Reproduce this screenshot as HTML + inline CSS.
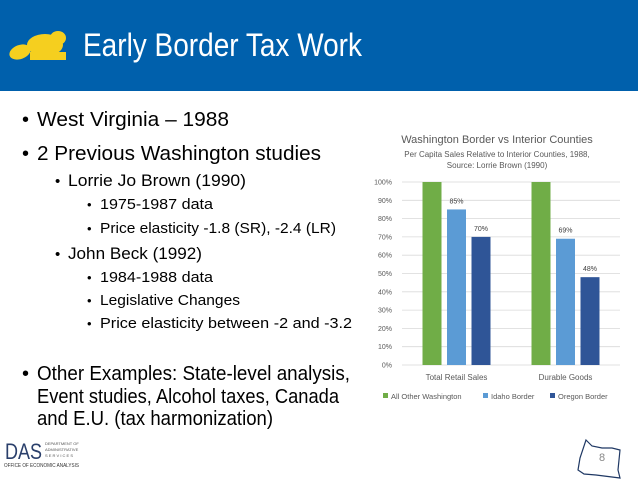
<!DOCTYPE html>
<html><head><meta charset="utf-8"><style>
html,body{margin:0;padding:0;background:#fff;width:638px;height:479px;overflow:hidden}
svg{display:block;font-family:"Liberation Sans",sans-serif}
</style></head><body>
<svg width="638" height="479" viewBox="0 0 638 479">
<rect x="0" y="0" width="638" height="91" fill="#0060ac"/>
<g fill="#f5cf1f">
<ellipse cx="45" cy="45" rx="18" ry="11"/>
<ellipse cx="58" cy="38" rx="8" ry="7"/>
<ellipse cx="20" cy="52" rx="11" ry="7" transform="rotate(-20 20 52)"/>
<rect x="30" y="52" width="36" height="8"/>
</g>
<text x="83" y="56" font-size="32" fill="#fff" textLength="279" lengthAdjust="spacingAndGlyphs">Early Border Tax Work</text>
<g fill="#000">
<text x="22" y="126" font-size="20">•</text><text x="37" y="126" font-size="20" textLength="192" lengthAdjust="spacingAndGlyphs">West Virginia – 1988</text>
<text x="22" y="160" font-size="20">•</text><text x="37" y="160" font-size="20" textLength="284" lengthAdjust="spacingAndGlyphs">2 Previous Washington studies</text>
<text x="55" y="186" font-size="15">•</text><text x="68" y="186" font-size="17" textLength="178" lengthAdjust="spacingAndGlyphs">Lorrie Jo Brown (1990)</text>
<text x="87" y="209" font-size="13">•</text><text x="100" y="209" font-size="15" textLength="113" lengthAdjust="spacingAndGlyphs">1975-1987 data</text>
<text x="87" y="233" font-size="13">•</text><text x="100" y="233" font-size="15" textLength="236" lengthAdjust="spacingAndGlyphs">Price elasticity -1.8 (SR), -2.4 (LR)</text>
<text x="55" y="259" font-size="15">•</text><text x="68" y="259" font-size="17" textLength="134" lengthAdjust="spacingAndGlyphs">John Beck (1992)</text>
<text x="87" y="282" font-size="13">•</text><text x="100" y="282" font-size="15" textLength="113" lengthAdjust="spacingAndGlyphs">1984-1988 data</text>
<text x="87" y="305" font-size="13">•</text><text x="100" y="305" font-size="15" textLength="140" lengthAdjust="spacingAndGlyphs">Legislative Changes</text>
<text x="87" y="328" font-size="13">•</text><text x="100" y="328" font-size="15" textLength="252" lengthAdjust="spacingAndGlyphs">Price elasticity between -2 and -3.2</text>
<text x="22" y="380" font-size="20">•</text><text x="37" y="380" font-size="20" textLength="313" lengthAdjust="spacingAndGlyphs">Other Examples: State-level analysis,</text>
<text x="37" y="403" font-size="20" textLength="302" lengthAdjust="spacingAndGlyphs">Event studies, Alcohol taxes, Canada</text>
<text x="37" y="425" font-size="20" textLength="236" lengthAdjust="spacingAndGlyphs">and E.U. (tax harmonization)</text>
</g>
<g>
<text x="5" y="459" font-size="22" fill="#2a3f6b" textLength="37" lengthAdjust="spacingAndGlyphs">DAS</text>
<text x="45" y="445" font-size="4" fill="#555">DEPARTMENT OF</text>
<text x="45" y="451" font-size="4" fill="#555">ADMINISTRATIVE</text>
<text x="45" y="457" font-size="4" fill="#555">S E R V I C E S</text>
<text x="4" y="467" font-size="5" fill="#333" textLength="75" lengthAdjust="spacingAndGlyphs">OFFICE OF ECONOMIC ANALYSIS</text>
</g>
<path d="M586,440 L592,446 L602,448 L612,448 L620,450 L618,470 L620,478 L596,475 L584,474 L578,470 L580,458 Z" fill="none" stroke="#1f3864" stroke-width="1.2"/>
<text x="602" y="461" font-size="11" fill="#888" text-anchor="middle">8</text>
<g id="chart"></g>
</svg>
<script>
const categories=["Total Retail Sales","Durable Goods"];
const seriesNames=["All Other Washington","Idaho Border","Oregon Border"];
const seriesColors=["#70ad47","#5b9bd5","#2f5597"];
const washington=[100,100];
const idaho=[85,69];
const oregon=[70,48];
const showLabel=[false,true,true];
const yTicks=[0,10,20,30,40,50,60,70,80,90,100];
const NS="http://www.w3.org/2000/svg";
const g=document.getElementById('chart');
const X0=402,X1=620,Y0=365,Y1=182;
const y=v=>Y0-(v/100)*(Y0-Y1);
const groupW=(X1-X0)/categories.length;
const barW=19,step=24.5;
const xBar=(ci,si)=>X0+groupW*ci+groupW/2+(si-1)*step-barW/2;
function mk(t,a){const e=document.createElementNS(NS,t);for(const k in a)e.setAttribute(k,a[k]);g.appendChild(e);return e;}
let t=mk('text',{x:497,y:143,'font-size':11,fill:'#595959','text-anchor':'middle'});t.textContent="Washington Border vs Interior Counties";


t=mk('text',{x:497,y:157,'font-size':8,fill:'#595959','text-anchor':'middle'});t.textContent="Per Capita Sales Relative to Interior Counties, 1988,";


t=mk('text',{x:497,y:168,'font-size':8,fill:'#595959','text-anchor':'middle'});t.textContent="Source: Lorrie Brown (1990)";


yTicks.forEach(v=>{
 const l=mk('line',{x1:X0,x2:X1,y1:y(v),y2:y(v),stroke:'#d9d9d9','stroke-width':0.8});
 
 
 const tx=mk('text',{x:392,y:y(v)+2.5,'font-size':7,fill:'#595959','text-anchor':'end'});tx.textContent=v+'%';
 
 
});
const series=[washington,idaho,oregon];
series.forEach((vals,si)=>{vals.forEach((v,ci)=>{
 const r=mk('rect',{x:xBar(ci,si),y:y(v),width:barW,height:Y0-y(v),fill:seriesColors[si]});
 
 
 if(showLabel[si]){const lb=mk('text',{x:xBar(ci,si)+barW/2,y:y(v)-6,'font-size':7,fill:'#404040','text-anchor':'middle'});lb.textContent=v+'%';
 
 }
});});
categories.forEach((c,ci)=>{const tx=mk('text',{x:X0+groupW*ci+groupW/2,y:380,'font-size':8,fill:'#595959','text-anchor':'middle'});tx.textContent=c;
 
 });
const legX=[383,483,550];
seriesNames.forEach((n,si)=>{
 const s=mk('rect',{x:legX[si],y:393,width:5,height:5,fill:seriesColors[si]});
 
 
 const tx=mk('text',{x:legX[si]+8,y:399,'font-size':7.5,fill:'#595959'});tx.textContent=n;
 
 
});
</script>
</body></html>
